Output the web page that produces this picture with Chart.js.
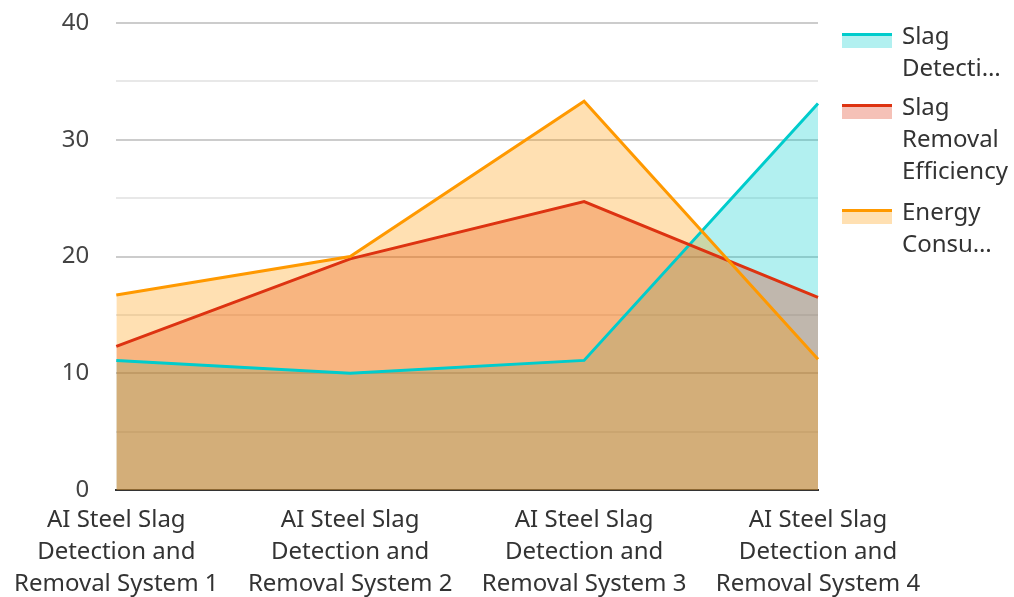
<!DOCTYPE html>
<html>
<head>
<meta charset="utf-8">
<script src="https://cdn.jsdelivr.net/npm/chart.js@4/dist/chart.umd.min.js"></script>
<style>
  body{margin:0;background:#fff;font-family:"Noto Sans",sans-serif;}
  #wrap{position:relative;width:1014px;height:597px;}
  #legend{position:absolute;left:842px;top:19px;color:#333;font-size:24px;line-height:32px;}
  .item{position:relative;padding-left:60px;}
  .swatch{position:absolute;left:0;top:14px;width:50px;height:15px;box-sizing:border-box;border-top:3px solid;}
</style>
</head>
<body>
<div id="wrap">
  <canvas id="c" width="1014" height="597"></canvas>
  <div id="legend"></div>
</div>
<script>
const categories = [
  ['AI Steel Slag','Detection and','Removal System 1'],
  ['AI Steel Slag','Detection and','Removal System 2'],
  ['AI Steel Slag','Detection and','Removal System 3'],
  ['AI Steel Slag','Detection and','Removal System 4']
];
const slagDetection = [11.1, 10.0, 11.1, 33.1];
const slagRemoval = [12.3, 19.8, 24.7, 16.5];
const energyConsumption = [16.7, 20.0, 33.3, 11.2];
const legendNames = [['Slag','Detecti…'],['Slag','Removal','Efficiency'],['Energy','Consu…']];

const colors = ['#00cccc','#dd3311','#ff9900'];
const fills = ['rgba(0,204,204,0.3)','rgba(221,51,17,0.3)','rgba(255,153,0,0.3)'];
const clear = 'rgba(0,0,0,0)';

function ds(label,data,i,order){
    return {label:label,data:data,borderColor:colors[i],backgroundColor:fills[i],
        borderWidth:3,fill:'origin',pointRadius:0,tension:0,order:order};
}

new Chart(document.getElementById('c').getContext('2d'),{
    type:'line',
    data:{labels:categories,datasets:[
        ds('Slag Detection',slagDetection,0,3),
        ds('Slag Removal Efficiency',slagRemoval,1,2),
        ds('Energy Consumption',energyConsumption,2,1)
    ]},
    options:{
        responsive:false,animation:false,
        layout:{padding:{top:23,right:196,left:0,bottom:0}},
        plugins:{legend:{display:false},tooltip:{enabled:false},filler:{drawTime:'beforeDatasetsDraw'}},
        scales:{
            x:{
                offset:false,
                grid:{display:false,drawTicks:false},
                border:{color:'#333',width:2},
                ticks:{color:'#333',font:{family:'Noto Sans',size:24,lineHeight:1.333},padding:14,maxRotation:0,autoSkip:false},
                afterFit:s=>{s.height=107;}
            },
            y:{
                min:0,max:40,
                grid:{drawTicks:true,tickLength:27,tickColor:clear,
                    color:c=>c.tick && c.tick.value%10===0?'#cccccc':'#e8e8e8',lineWidth:2},
                border:{display:false},
                ticks:{stepSize:5,color:'#444',padding:0,font:{family:'Noto Sans',size:24},
                    callback:v=>v%10===0?v:''},
                afterFit:s=>{s.width=116;}
            }
        }
    }
});

const leg=document.getElementById('legend');
const gaps=[7,9,0];
legendNames.forEach((lines,i)=>{
    const d=document.createElement('div');d.className='item';d.style.marginBottom=gaps[i]+'px';
    const sw=document.createElement('span');sw.className='swatch';
    sw.style.borderTopColor=colors[i];sw.style.background=fills[i];
    d.appendChild(sw);
    lines.forEach(t=>{const l=document.createElement('div');l.textContent=t;d.appendChild(l);});
    leg.appendChild(d);
});
</script>
</body>
</html>
